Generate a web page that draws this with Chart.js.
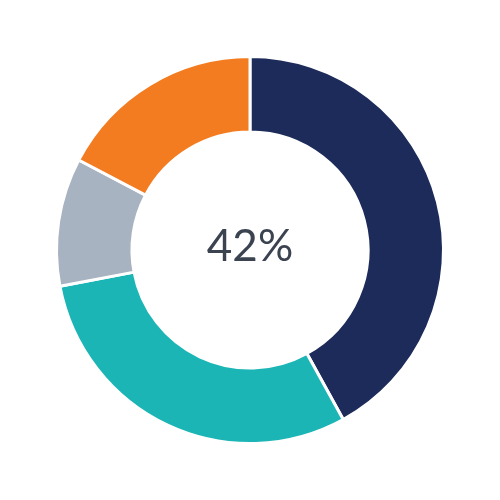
<!DOCTYPE html>
<html><head><meta charset="utf-8">
<script src="https://cdn.jsdelivr.net/npm/chart.js@4/dist/chart.umd.min.js"></script>
<style>html,body{margin:0;padding:0;background:#fff}#w{width:500px;height:500px}</style>
</head><body><div id="w"><canvas id="c"></canvas></div>
<script>
const categories = ["Navy", "Teal", "Gray", "Orange"];
const values = [42, 30, 10.7, 17.3];
const colors = ["#1c2b59", "#1bb5b6", "#a8b3c1", "#f37c20"];
const centerLabel = "42%";

const centerText = {
  id: 'centerText',
  afterDraw(chart) {
    const {ctx, chartArea} = chart;
    const x = (chartArea.left + chartArea.right) / 2;
    const y = (chartArea.top + chartArea.bottom) / 2;
    ctx.save();
    ctx.font = '400 44px Lato, "Open Sans", sans-serif';
    ctx.fillStyle = '#3b4350';
    ctx.textAlign = 'center';
    ctx.textBaseline = 'middle';
    ctx.fillText(centerLabel, x + 0, y - 3);
    ctx.restore();
  }
};

new Chart(document.getElementById('c'), {
  type: 'doughnut',
  data: { labels: categories, datasets: [{ data: values, backgroundColor: colors, borderColor: '#ffffff', borderWidth: 3 }] },
  options: {
    responsive: true, maintainAspectRatio: false, animation: false,
    cutout: '61%',
    layout: { padding: 55 },
    plugins: { legend: { display: false }, tooltip: { enabled: false } }
  },
  plugins: [centerText]
});
</script></body></html>
